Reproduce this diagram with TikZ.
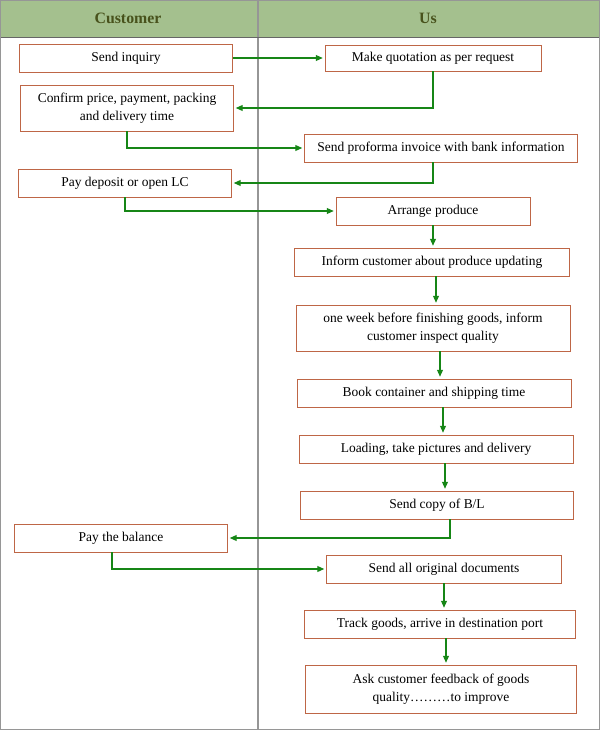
\documentclass[tikz,border=0pt]{standalone}
\usepackage{fontspec}
\setmainfont{Liberation Serif}
\usetikzlibrary{arrows.meta}

\definecolor{hdrgreen}{RGB}{164,192,142}
\definecolor{hdrtext}{RGB}{72,82,28}
\definecolor{boxedge}{RGB}{190,102,70}
\definecolor{flowgreen}{RGB}{22,134,22}
\definecolor{laneline}{RGB}{150,150,150}

\begin{document}
\begin{tikzpicture}[
x=0.03cm, y=-0.03cm,
box/.style={rectangle, draw=boxedge, line width=0.75pt, fill=white,
minimum height=0.84cm, align=center, inner sep=2pt,
font=\fontsize{11.5}{15.5}\selectfont},
head/.style={font=\fontsize{13.5}{15}\selectfont\bfseries, text=hdrtext},
arr/.style={-{Triangle[length=6pt,width=5pt]}, draw=flowgreen, line width=1.2pt,
shorten >=1.5pt},
lane/.style={draw=laneline, line width=1pt}
]
\useasboundingbox (0,0) rectangle (600,730);

% swimlane frame
\fill[hdrgreen] (0,0) rectangle (600,37);
\draw[lane] (258,0) -- (258,730);
\draw[draw=gray!80!black, line width=0.8pt] (0,37) -- (600,37);
\draw[lane, line width=1.5pt] (0.6,0.6) rectangle (599.4,729.4);
\node[head] (cust) at (128,18) {Customer};
\node[head] (us) at (428,18) {Us};

% customer side
\node[box, minimum width=6.39cm] (inquiry) at (126,58) {Send inquiry};
\node[box, minimum width=6.39cm, minimum height=1.38cm] (confirm) at (127,108)
{Confirm price, payment, packing\\and delivery time};
\node[box, minimum width=6.39cm] (deposit) at (125,183) {Pay deposit or open LC};
\node[box, minimum width=6.39cm] (balance) at (121,538) {Pay the balance};

% our side
\node[box, minimum width=6.48cm, minimum height=0.78cm] (quote) at (433,58)
{Make quotation as per request};
\node[box, minimum width=8.19cm] (proforma) at (441,148)
{Send proforma invoice with bank information};
\node[box, minimum width=5.82cm] (arrange) at (433,211) {Arrange produce};
\node[box, minimum width=8.25cm] (inform) at (432,262)
{Inform customer about produce updating};
\node[box, minimum width=8.22cm, minimum height=1.38cm] (oneweek) at (433,328)
{one week before finishing goods, inform\\customer inspect quality};
\node[box, minimum width=8.22cm] (book) at (434,393) {Book container and shipping time};
\node[box, minimum width=8.22cm] (loading) at (436,449) {Loading, take pictures and delivery};
\node[box, minimum width=8.19cm] (blcopy) at (437,505) {Send copy of B/L};
\node[box, minimum width=7.05cm] (originals) at (444,569) {Send all original documents};
\node[box, minimum width=8.13cm] (track) at (440,624)
{Track goods, arrive in destination port};
\node[box, minimum width=8.13cm, minimum height=1.44cm] (feedback) at (441,689)
{Ask customer feedback of goods\\quality\dots\dots\dots to improve};

% flow
\draw[arr] (inquiry) -- (quote);
\draw[arr] (quote.south) |- (confirm.east);
\draw[arr] (confirm.south) |- (proforma.west);
\draw[arr] ([xshift=-0.24cm]proforma.south) |- (deposit.east);
\draw[arr] (deposit.south) |- (arrange.west);
\draw[arr] (arrange.south) -- (arrange.south |- inform.north);
\draw[arr] ([xshift=0.12cm]inform.south) -- ([xshift=0.12cm]inform.south |- oneweek.north);
\draw[arr] ([xshift=0.21cm]oneweek.south) -- ([xshift=0.21cm]oneweek.south |- book.north);
\draw[arr] ([xshift=0.27cm]book.south) -- ([xshift=0.27cm]book.south |- loading.north);
\draw[arr] ([xshift=0.27cm]loading.south) -- ([xshift=0.27cm]loading.south |- blcopy.north);
\draw[arr] ([xshift=0.39cm]blcopy.south) |- (balance.east);
\draw[arr] ([xshift=-0.27cm]balance.south) |- (originals.west);
\draw[arr] (originals.south) -- (originals.south |- track.north);
\draw[arr] ([xshift=0.18cm]track.south) -- ([xshift=0.18cm]track.south |- feedback.north);
\end{tikzpicture}
\end{document}
